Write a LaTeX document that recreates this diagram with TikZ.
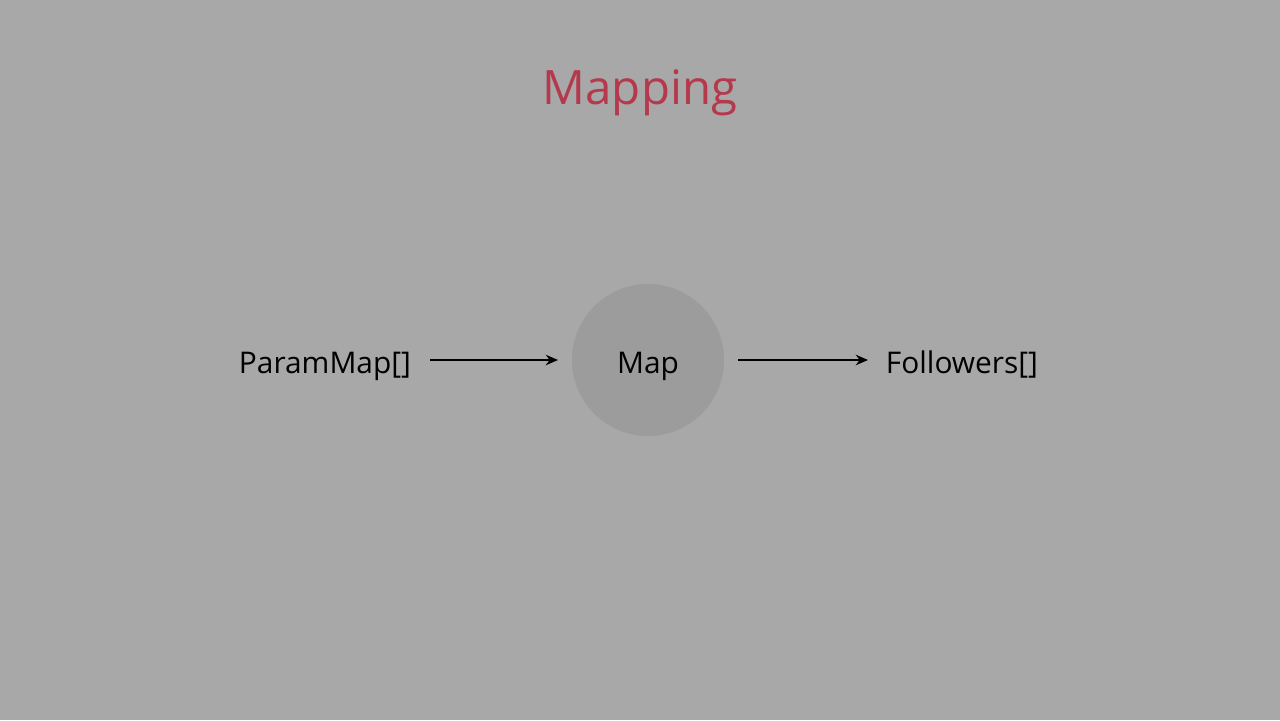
\documentclass[tikz,border=0pt]{standalone}
\usepackage{fontspec}
\setmainfont{Open Sans Light}[BoldFont={Open Sans}]
\newfontfamily\regfont{Open Sans}
\usetikzlibrary{arrows.meta}
\definecolor{bg}{HTML}{A8A8A8}
\definecolor{circ}{HTML}{9C9C9C}
\definecolor{ttl}{HTML}{B5394C}
\tikzset{lbl/.style={font=\regfont\fontsize{17}{20}\selectfont, text=black, inner sep=0pt, anchor=base},
 conn/.style={-{Stealth[length=7pt,width=6pt]}, line width=0.8pt}}
\begin{document}
\begin{tikzpicture}
\fill[bg] (0,0) rectangle (25.6,14.4);
\useasboundingbox (0,0) rectangle (25.6,14.4);
\node[text=ttl, font=\regfont\fontsize{27}{32}\selectfont, inner sep=0pt, anchor=base] (title) at (12.8,12.3) {Mapping};
\node[circle, fill=circ, minimum size=3.04cm, inner sep=0pt] (circ) at (12.96,7.2) {};
\node[lbl] (map) at (12.96,6.93) {Map};
\node[lbl] (pm) at (6.5,6.93) {ParamMap[]};
\node[lbl] (fo) at (19.24,6.93) {Followers[]};
\coordinate (a1) at (8.6,7.2); \coordinate (a2) at (11.16,7.2);
\coordinate (b1) at (14.76,7.2); \coordinate (b2) at (17.36,7.2);
\draw[conn] (a1) -- (a2);
\draw[conn] (b1) -- (b2);
\end{tikzpicture}
\end{document}
